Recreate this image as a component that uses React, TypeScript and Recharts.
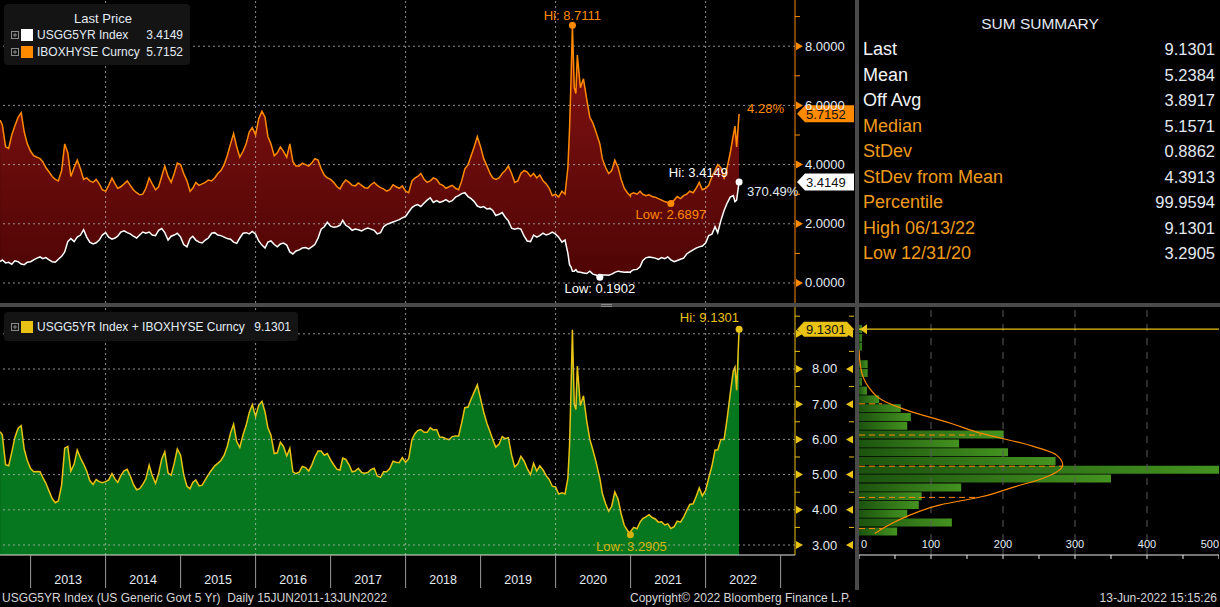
import React from "react";
import {
  ComposedChart,
  Area,
  Line,
  Bar,
  XAxis,
  YAxis,
  ReferenceLine,
  ReferenceDot,
} from "recharts";

const FONT = '"Liberation Sans", Arial, Helvetica, sans-serif';
const ORANGE = "#ff8a00";
const YELLOW = "#e8c215";
const GREEN = "#07771f";
const TEXT = "#e3ebf3";
const GRID = "rgba(190,190,190,0.75)";

// semi-monthly sampling dates
const HALF_MONTHS = [
  "01-01", "01-16", "02-01", "02-16", "03-01", "03-16", "04-01", "04-16",
  "05-01", "05-16", "06-01", "06-16", "07-01", "07-16", "08-01", "08-16",
  "09-01", "09-16", "10-01", "10-16", "11-01", "11-16", "12-01", "12-16",
];
const year = (y: number) => HALF_MONTHS.map((md) => `${y}-${md}`);

const DATES = [
  "2012-08-05", "2012-08-16", "2012-09-01", "2012-09-16", "2012-10-01",
  "2012-10-16", "2012-11-01", "2012-11-16", "2012-12-01", "2012-12-16",
  ...year(2013), ...year(2014), ...year(2015), ...year(2016),
  ...year(2017), ...year(2018), ...year(2019),
  "2020-01-01", "2020-01-16", "2020-02-01", "2020-02-16", "2020-03-01",
  "2020-03-09", "2020-03-16", "2020-03-23", "2020-04-01", "2020-04-09",
  "2020-04-16", "2020-05-01", "2020-05-16", "2020-06-01", "2020-06-16",
  "2020-07-01", "2020-07-16", "2020-08-04", "2020-08-16", "2020-09-01",
  "2020-09-16", "2020-10-01", "2020-10-16", "2020-11-01", "2020-11-16",
  "2020-12-01", "2020-12-16", "2020-12-31",
  ...year(2021),
  "2022-01-01", "2022-01-16", "2022-02-01", "2022-02-16", "2022-03-01",
  "2022-03-16", "2022-04-01", "2022-04-16", "2022-05-01", "2022-05-16",
  "2022-05-24", "2022-06-01", "2022-06-13",
];

// USGG5YR Index
const US5Y = [
  0.72, 0.78, 0.68, 0.70, 0.63, 0.75, 0.72, 0.64, 0.62, 0.70,
  0.72, 0.78, 0.84, 0.88, 0.82, 0.86, 0.78, 0.72, 0.70, 0.80, 0.90, 1.05, 1.40, 1.50, 1.40, 1.55, 1.62, 1.80, 1.55, 1.38, 1.32, 1.36, 1.45, 1.62,
  1.70, 1.55, 1.48, 1.52, 1.58, 1.72, 1.76, 1.70, 1.66, 1.58, 1.52, 1.62, 1.72, 1.68, 1.72, 1.62, 1.60, 1.78, 1.84, 1.70, 1.45, 1.58, 1.62, 1.68,
  1.55, 1.30, 1.22, 1.50, 1.58, 1.45, 1.38, 1.35, 1.45, 1.52, 1.68, 1.70, 1.62, 1.60, 1.55, 1.50, 1.48, 1.38, 1.34, 1.52, 1.68, 1.70, 1.66, 1.74,
  1.65, 1.42, 1.28, 1.18, 1.38, 1.42, 1.30, 1.22, 1.32, 1.35, 1.28, 1.05, 0.98, 1.08, 1.12, 1.18, 1.20, 1.15, 1.22, 1.30, 1.52, 1.82, 1.90, 2.05,
  1.92, 1.88, 1.90, 1.95, 2.12, 1.95, 1.88, 1.78, 1.82, 1.80, 1.76, 1.82, 1.86, 1.82, 1.78, 1.66, 1.70, 1.90, 1.98, 2.02, 2.06, 2.10, 2.14, 2.20,
  2.25, 2.40, 2.55, 2.62, 2.65, 2.58, 2.70, 2.80, 2.88, 2.72, 2.78, 2.72, 2.76, 2.82, 2.74, 2.78, 2.90, 2.95, 3.02, 3.05, 2.92, 2.85, 2.75, 2.60,
  2.55, 2.58, 2.50, 2.52, 2.45, 2.28, 2.32, 2.38, 2.22, 2.10, 1.85, 1.82, 1.85, 1.82, 1.58, 1.42, 1.40, 1.62, 1.55, 1.60, 1.68, 1.62, 1.66, 1.72,
  1.65, 1.55, 1.38, 1.45, 1.00, 0.62, 0.55, 0.40, 0.40, 0.45, 0.38, 0.36, 0.34, 0.32, 0.40, 0.30, 0.27, 0.1902, 0.27, 0.27, 0.26, 0.30, 0.36, 0.40, 0.38, 0.36, 0.37, 0.36,
  0.38, 0.45, 0.46, 0.55, 0.75, 0.85, 0.88, 0.86, 0.84, 0.80, 0.86, 0.82, 0.88, 0.78, 0.72, 0.76, 0.80, 0.84, 0.98, 1.05, 1.12, 1.18, 1.22, 1.25,
  1.35, 1.60, 1.65, 1.90, 1.70, 2.10, 2.45, 2.70, 2.90, 2.95, 2.75, 2.80, 3.4149,
];

// IBOXHYSE Curncy
const HYSE = [
  5.50, 5.35, 4.60, 4.55, 5.00, 5.30, 5.60, 5.75, 5.10, 4.70,
  4.45, 4.30, 4.25, 4.20, 4.10, 3.90, 3.75, 3.60, 3.50, 3.45, 3.80, 4.70, 4.40, 3.60, 3.90, 4.15, 3.85, 3.50, 3.55, 3.45, 3.40, 3.50, 3.35, 3.15,
  3.10, 3.30, 3.55, 3.35, 3.20, 3.25, 3.35, 3.45, 3.30, 3.15, 3.05, 2.98, 3.00, 3.20, 3.55, 3.35, 3.15, 3.25, 3.60, 3.95, 3.60, 3.40, 3.70, 4.05,
  4.00, 3.70, 3.45, 3.10, 3.20, 3.40, 3.30, 3.35, 3.40, 3.48, 3.45, 3.55, 3.70, 3.80, 4.00, 4.30, 4.70, 5.05, 4.60, 4.25, 4.45, 4.70, 5.10, 5.25,
  5.00, 5.55, 5.80, 5.60, 4.95, 4.70, 4.30, 4.40, 4.60, 4.45, 4.25, 4.70, 4.10, 3.95, 3.95, 4.05, 4.00, 3.95, 4.05, 4.20, 4.15, 3.85, 3.65, 3.55,
  3.50, 3.40, 3.25, 3.18, 3.35, 3.48, 3.40, 3.30, 3.28, 3.38, 3.30, 3.22, 3.20, 3.32, 3.40, 3.30, 3.22, 3.18, 3.10, 3.15, 3.32, 3.25, 3.20, 3.28,
  3.10, 3.05, 3.45, 3.55, 3.60, 3.70, 3.50, 3.40, 3.45, 3.55, 3.50, 3.35, 3.30, 3.20, 3.25, 3.30, 3.20, 3.15, 3.45, 3.85, 4.00, 4.30, 4.60, 4.95,
  4.60, 4.20, 3.95, 3.70, 3.55, 3.50, 3.55, 3.70, 3.80, 3.95, 3.70, 3.40, 3.45, 3.70, 3.80, 3.75, 3.60, 3.70, 3.55, 3.65, 3.45, 3.35, 3.20, 2.95,
  3.00, 2.90, 3.10, 3.00, 3.90, 5.20, 6.80, 8.7111, 6.60, 6.40, 7.70, 6.60, 6.90, 6.20, 5.60, 5.40, 5.10, 4.70, 4.20, 3.90, 3.70, 3.80, 4.15, 3.90, 3.50, 3.20, 3.05, 2.9305,
  3.00, 3.05, 3.00, 3.10, 3.00, 2.95, 2.98, 2.92, 2.90, 2.85, 2.80, 2.75, 2.72, 2.6897, 2.80, 2.92, 2.85, 2.95, 3.00, 3.10, 3.05, 3.20, 3.40, 3.15,
  3.20, 3.30, 3.60, 3.80, 4.00, 3.90, 3.55, 3.90, 4.40, 5.00, 5.30, 4.60, 5.7152,
];

const YEAR_LABELS = [2013, 2014, 2015, 2016, 2017, 2018, 2019, 2020, 2021, 2022];

// histogram of the summed series (bins of 0.25 starting 3.25)
const HIST_START = 3.25;
const HIST_STEP = 0.25;
const HIST_COUNTS = [53, 129, 67, 83, 87, 142, 350, 504, 273, 207, 139, 201, 67, 72, 58, 28, 11, 4, 12, 12, 1, 4, 4, 4];

// fitted normal curve
const CURVE_V = [3.33, 3.62, 3.80, 4.14, 4.37, 4.66, 4.89, 5.27, 5.56, 5.84, 6.17, 6.46, 6.84, 7.12, 7.50, 7.97, 8.54];
const CURVE_N = [22, 46, 65, 113, 170, 217, 255, 283, 274, 236, 170, 127, 65, 32, 13, 3, 0];
const MEAN = 5.2384;
const STDEV = 0.8862;
const BAND_SIGMA = [-2, -1, 0, 1, 2];
const BAND_LEN = [32, 167, 283, 170, 32];

const SUMMARY_LABELS = ["Last", "Mean", "Off Avg", "Median", "StDev", "StDev from Mean", "Percentile", "High 06/13/22", "Low 12/31/20"];
const SUMMARY_VALUES = ["9.1301", "5.2384", "3.8917", "5.1571", "0.8862", "4.3913", "99.9594", "9.1301", "3.2905"];

const PCT_HY = "4.28%";
const PCT_US = "370.49%";

const T0 = 2012.592;
const T1 = 2023.192;

function toYear(s: string) {
  const [y, m, d] = s.split("-").map(Number);
  const a = Date.UTC(y, 0, 1);
  const b = Date.UTC(y + 1, 0, 1);
  return y + (Date.UTC(y, m - 1, d) - a) / (b - a);
}

const rows = DATES.map((d, i) => ({
  t: toYear(d),
  us: US5Y[i],
  hy: HYSE[i],
  sum: +(US5Y[i] + HYSE[i]).toFixed(4),
}));

const bins = HIST_COUNTS.map((n, i) => ({ v: HIST_START + HIST_STEP * (i + 0.5), n }));
const curve = CURVE_V.map((v, i) => ({ v, c: CURVE_N[i] }));

function extreme(key: "us" | "hy" | "sum", hi: boolean) {
  return rows.reduce((best, r) => (hi ? r[key] > best[key] : r[key] < best[key]) ? r : best, rows[0]);
}

const hiUs = extreme("us", true);
const loUs = extreme("us", false);
const hiHy = extreme("hy", true);
const loHy = extreme("hy", false);
const hiSum = extreme("sum", true);
const loSum = extreme("sum", false);
const last = rows[rows.length - 1];

const TOP_TICKS = [0, 1, 2, 3, 4, 5, 6, 7, 8, 9];
const BOT_TICKS = [3, 3.5, 4, 4.5, 5, 5.5, 6, 6.5, 7, 7.5, 8, 8.5, 9, 9.5];
const X_TICKS = [...YEAR_LABELS, 2023, ...YEAR_LABELS.map((y) => y + 0.5)];
const X_GRID = [2014, 2016, 2018, 2020, 2022];

function TopTick(props: any) {
  const { x, y, payload } = props;
  const v = payload.value;
  if (v % 2 !== 0) {
    return <line x1={x} x2={x + 5} y1={y} y2={y} stroke={ORANGE} />;
  }
  return (
    <g>
      <polygon points={`${x + 1},${y - 4} ${x + 8},${y} ${x + 1},${y + 4}`} fill={ORANGE} />
      <text x={x + 10} y={y + 4.5} fill={TEXT} fontSize={13} fontFamily={FONT}>
        {v.toFixed(4)}
      </text>
    </g>
  );
}

function BottomTick(props: any) {
  const { x, y, payload } = props;
  const v = payload.value;
  if (!Number.isInteger(v)) {
    return (
      <g>
        <line x1={x} x2={x + 5} y1={y} y2={y} stroke={YELLOW} />
        <line x1={x + 54} x2={x + 59} y1={y} y2={y} stroke={YELLOW} />
      </g>
    );
  }
  // the 9.00 label sits under the last-value tag
  return (
    <g>
      <polygon points={`${x + 1},${y - 4} ${x + 8},${y} ${x + 1},${y + 4}`} fill={YELLOW} />
      {v < 9 && (
        <text x={x + 17} y={y + 4.5} fill={TEXT} fontSize={13} fontFamily={FONT}>
          {v.toFixed(2)}
        </text>
      )}
      <polygon points={`${x + 58},${y - 4} ${x + 51},${y} ${x + 58},${y + 4}`} fill={YELLOW} />
    </g>
  );
}

function YearTick(props: any) {
  const { x, y, payload } = props;
  const v = payload.value;
  if (Number.isInteger(v)) {
    return <line x1={x} x2={x} y1={y} y2={y + 33} stroke="#9a9a9a" />;
  }
  return (
    <text x={x} y={y + 29} fill={TEXT} fontSize={12.5} fontFamily={FONT} textAnchor="middle">
      {Math.floor(v)}
    </text>
  );
}

function HistTick(props: any) {
  const { x, y, payload } = props;
  const v = payload.value;
  const anchor = v === 0 ? "start" : v === 500 ? "end" : "middle";
  return (
    <g>
      <line x1={x} x2={x} y1={y} y2={y + 4} stroke="#e8e8e8" />
      {v % 100 === 0 && (
        <text x={v === 0 ? x + 2 : x} y={y - 7} fill={TEXT} fontSize={11} fontFamily={FONT} textAnchor={anchor}>
          {v}
        </text>
      )}
    </g>
  );
}

function dotWithText(color: string, text: string, dx: number, dy: number, anchor: string, r = 3.5) {
  return (p: any) => (
    <g>
      {r > 0 && <circle cx={p.cx} cy={p.cy} r={r} fill={color} />}
      <text x={p.cx + dx} y={p.cy + dy} fill={color} fontSize={13} fontFamily={FONT} textAnchor={anchor}>
        {text}
      </text>
    </g>
  );
}

function axisTag(fill: string, text: string, both: boolean) {
  return (p: any) => {
    const vb = p.viewBox || {};
    const x0 = vb.x + vb.width + 2;
    const y = vb.y;
    const pts = both
      ? `${x0},${y} ${x0 + 7},${y - 7.5} ${x0 + 50},${y - 7.5} ${x0 + 57},${y} ${x0 + 50},${y + 7.5} ${x0 + 7},${y + 7.5}`
      : `${x0},${y} ${x0 + 8},${y - 8.5} ${x0 + 57},${y - 8.5} ${x0 + 57},${y + 8.5} ${x0 + 8},${y + 8.5}`;
    return (
      <g>
        <polygon points={pts} fill={fill} />
        <text x={x0 + 9} y={y + 5} fill="#111" fontSize={13} fontFamily={FONT}>
          {text}
        </text>
      </g>
    );
  };
}

function PlusBox() {
  return (
    <svg width={8} height={8} style={{ position: "absolute", left: 7, top: 4 }}>
      <rect x={0.5} y={0.5} width={7} height={7} fill="none" stroke="#8a8a8a" />
      <path d="M2 4H6M4 2V6" stroke="#8a8a8a" />
    </svg>
  );
}

function LegendRow({ top, color, label, value, width }: { top: number; color: string; label: string; value: string; width: number }) {
  return (
    <div style={{ position: "absolute", left: 0, top, width, height: 16, lineHeight: "16px", fontSize: 12, color: TEXT }}>
      <PlusBox />
      <span style={{ position: "absolute", left: 17, top: 2, width: 12, height: 12, background: color }} />
      <span style={{ position: "absolute", left: 33, whiteSpace: "nowrap" }}>{label}</span>
      <span style={{ position: "absolute", right: 7 }}>{value}</span>
    </div>
  );
}

export default function App() {
  return (
    <div style={{ position: "relative", width: 1220, height: 607, background: "#000", overflow: "hidden", fontFamily: FONT }}>
      <style>{`body{margin:0;background:#000}`}</style>

      {/* top panel */}
      <div style={{ position: "absolute", left: 0, top: 0 }}>
        <ComposedChart width={860} height={303} data={rows} margin={{ top: 0, right: 0, bottom: 0, left: 0 }}>
          <defs>
            <linearGradient id="redFill" x1="0" y1="0" x2="0" y2="300" gradientUnits="userSpaceOnUse">
              <stop offset="0" stopColor="#8c1515" />
              <stop offset="1" stopColor="#4a0303" />
            </linearGradient>
          </defs>
          <XAxis dataKey="t" type="number" domain={[T0, T1]} allowDataOverflow hide />
          <YAxis
            orientation="right"
            type="number"
            domain={[-0.676, 9.561]}
            allowDataOverflow
            ticks={TOP_TICKS}
            interval={0}
            width={65}
            tickSize={0}
            tickMargin={0}
            axisLine={{ stroke: ORANGE }}
            tickLine={false}
            tick={TopTick}
          />
          <Area dataKey={(d: any) => [d.us, d.hy]} fill="url(#redFill)" fillOpacity={1} stroke="none" activeDot={false} isAnimationActive={false} />
          {[0, 2, 4, 6, 8].map((v) => (
            <ReferenceLine key={`h${v}`} y={v} stroke={GRID} strokeDasharray="2 3" />
          ))}
          {X_GRID.map((v) => (
            <ReferenceLine key={`v${v}`} x={v} stroke={GRID} strokeDasharray="2 3" />
          ))}
          <Line dataKey="hy" stroke={ORANGE} strokeWidth={1.5} dot={false} activeDot={false} type="linear" isAnimationActive={false} />
          <Line dataKey="us" stroke="#ffffff" strokeWidth={1.5} dot={false} activeDot={false} type="linear" isAnimationActive={false} />
          <ReferenceDot x={hiHy.t} y={hiHy.hy} shape={dotWithText(ORANGE, `Hi: ${hiHy.hy.toFixed(4)}`, 0, -5, "middle")} />
          <ReferenceDot x={loHy.t} y={loHy.hy} shape={dotWithText(ORANGE, `Low: ${loHy.hy.toFixed(4)}`, 0, 16, "middle")} />
          <ReferenceDot x={loUs.t} y={loUs.us} shape={dotWithText("#ffffff", `Low: ${loUs.us.toFixed(4)}`, 0, 16, "middle")} />
          <ReferenceDot x={hiUs.t} y={hiUs.us} shape={dotWithText("#ffffff", `Hi: ${hiUs.us.toFixed(4)}`, -11, -5, "end")} />
          <ReferenceDot x={last.t} y={last.us} shape={dotWithText(TEXT, PCT_US, 8, 14, "start", 0)} />
          <ReferenceDot x={last.t} y={last.hy} shape={dotWithText(ORANGE, PCT_HY, 8, -1, "start", 0)} />
          <ReferenceLine y={last.hy} stroke="none" label={axisTag(ORANGE, last.hy.toFixed(4), false)} />
          <ReferenceLine y={last.us} stroke="none" label={axisTag("#ffffff", last.us.toFixed(4), false)} />
        </ComposedChart>
      </div>

      {/* bottom panel */}
      <div style={{ position: "absolute", left: 0, top: 307 }}>
        <ComposedChart width={860} height={285} data={rows} margin={{ top: 0, right: 0, bottom: 0, left: 0 }}>
          <XAxis
            dataKey="t"
            type="number"
            domain={[T0, T1]}
            allowDataOverflow
            ticks={X_TICKS}
            interval={0}
            height={37}
            tickSize={0}
            tickMargin={0}
            axisLine={{ stroke: "#e6e6e6" }}
            tickLine={false}
            tick={YearTick}
          />
          <YAxis
            orientation="right"
            type="number"
            domain={[2.716, 9.761]}
            allowDataOverflow
            ticks={BOT_TICKS}
            interval={0}
            width={65}
            tickSize={0}
            tickMargin={0}
            axisLine={{ stroke: YELLOW }}
            tickLine={false}
            tick={BottomTick}
          />
          <Area dataKey="sum" type="linear" fill={GREEN} fillOpacity={1} stroke={YELLOW} strokeWidth={1.5} activeDot={false} isAnimationActive={false} />
          {[3, 4, 5, 6, 7, 8, 9].map((v) => (
            <ReferenceLine key={`h${v}`} y={v} stroke={GRID} strokeDasharray="2 3" />
          ))}
          {X_GRID.map((v) => (
            <ReferenceLine key={`v${v}`} x={v} stroke={GRID} strokeDasharray="2 3" />
          ))}
          <ReferenceDot x={hiSum.t} y={hiSum.sum} shape={dotWithText(YELLOW, `Hi: ${hiSum.sum.toFixed(4)}`, 0, -7, "end")} />
          <ReferenceDot x={loSum.t} y={loSum.sum} shape={dotWithText("#d6b30c", `Low: ${loSum.sum.toFixed(4)}`, 1, 16, "middle")} />
          <ReferenceLine y={last.sum} stroke="none" label={axisTag(YELLOW, last.sum.toFixed(4), true)} />
        </ComposedChart>
      </div>

      {/* histogram bars */}
      <div style={{ position: "absolute", left: 859, top: 307 }}>
        <ComposedChart layout="vertical" width={360} height={248} data={bins} margin={{ top: 0, right: 0, bottom: 0, left: 0 }}>
          <defs>
            <linearGradient id="histGrad" x1="0" y1="0" x2="1" y2="0">
              <stop offset="0" stopColor="#1c530f" />
              <stop offset="1" stopColor="#449320" />
            </linearGradient>
          </defs>
          <XAxis type="number" domain={[0, 500]} allowDataOverflow hide />
          <YAxis type="number" dataKey="v" domain={[2.716, 9.761]} allowDataOverflow reversed hide />
          <Bar dataKey="n" barSize={8} fill="url(#histGrad)" activeBar={false} isAnimationActive={false} />
        </ComposedChart>
      </div>

      {/* histogram overlay: curve, sigma bands, axis */}
      <div style={{ position: "absolute", left: 859, top: 307 }}>
        <ComposedChart layout="vertical" width={360} height={258} data={curve} margin={{ top: 0, right: 0, bottom: 0, left: 0 }}>
          <XAxis
            type="number"
            domain={[0, 500]}
            ticks={[0, 50, 100, 150, 200, 250, 300, 350, 400, 450, 500]}
            interval={0}
            height={10}
            tickSize={0}
            tickMargin={0}
            axisLine={{ stroke: "#e8e8e8" }}
            tickLine={false}
            tick={HistTick}
          />
          <YAxis type="number" dataKey="v" domain={[2.716, 9.761]} allowDataOverflow reversed hide />
          {[100, 200, 300, 400].map((v) => (
            <ReferenceLine key={v} x={v} stroke="#5a5a5a" strokeDasharray="7 7" />
          ))}
          {BAND_SIGMA.map((k, i) => (
            <ReferenceLine
              key={`b${k}`}
              segment={[{ x: 0, y: MEAN + k * STDEV }, { x: BAND_LEN[i], y: MEAN + k * STDEV }]}
              stroke={ORANGE}
              strokeDasharray="6 4"
            />
          ))}
          <Line dataKey="c" type="monotone" stroke={ORANGE} strokeWidth={1.2} dot={false} activeDot={false} isAnimationActive={false} />
          <ReferenceLine
            y={last.sum}
            stroke={YELLOW}
            strokeWidth={1.2}
            label={(p: any) => {
              const vb = p.viewBox || {};
              return <polygon points={`${vb.x + 1},${vb.y} ${vb.x + 8},${vb.y - 5} ${vb.x + 8},${vb.y + 5}`} fill={YELLOW} />;
            }}
          />
        </ComposedChart>
      </div>

      {/* panel dividers */}
      <div style={{ position: "absolute", left: 0, top: 303, width: 1220, height: 4, background: "#4a4a4a" }} />
      <div style={{ position: "absolute", left: 601, top: 304, width: 11, height: 1, background: "#8a8a8a" }} />
      <div style={{ position: "absolute", left: 601, top: 306, width: 11, height: 1, background: "#8a8a8a" }} />
      <div style={{ position: "absolute", left: 855, top: 0, width: 4, height: 590, background: "#4a4a4a" }} />

      {/* top legend */}
      <div style={{ position: "absolute", left: 4, top: 4, width: 186, height: 61, background: "#141414", borderRadius: 4 }}>
        <div style={{ position: "absolute", left: 0, width: 198, top: 7, textAlign: "center", fontSize: 13, color: TEXT, lineHeight: "16px" }}>
          Last Price
        </div>
        <LegendRow top={23} color="#ffffff" label="USGG5YR Index" value={last.us.toFixed(4)} width={186} />
        <LegendRow top={40} color={ORANGE} label="IBOXHYSE Curncy" value={last.hy.toFixed(4)} width={186} />
      </div>

      {/* bottom legend */}
      <div style={{ position: "absolute", left: 4, top: 312, width: 294, height: 29, background: "#141414", borderRadius: 4 }}>
        <LegendRow top={7} color={YELLOW} label="USGG5YR Index + IBOXHYSE Curncy" value={last.sum.toFixed(4)} width={294} />
      </div>

      {/* summary panel */}
      <div style={{ position: "absolute", left: 860, top: 14, width: 360, textAlign: "center", fontSize: 15.5, color: TEXT, lineHeight: "20px" }}>
        SUM SUMMARY
      </div>
      {SUMMARY_LABELS.map((label, i) => (
        <div key={label} style={{ position: "absolute", left: 863, top: 37 + i * 25.5, width: 352, height: 24, lineHeight: "24px" }}>
          <span style={{ position: "absolute", left: 0, fontSize: 18, color: i < 3 ? "#f2f4f7" : "#ee9a1c", whiteSpace: "nowrap" }}>{label}</span>
          <span style={{ position: "absolute", right: 0, fontSize: 16.5, color: "#e3e9f0" }}>{SUMMARY_VALUES[i]}</span>
        </div>
      ))}

      {/* footer */}
      <div style={{ position: "absolute", left: 2, top: 591, fontSize: 12, color: "#d6d6d6", whiteSpace: "pre", lineHeight: "15px" }}>
        {"USGG5YR Index (US Generic Govt 5 Yr)  Daily 15JUN2011-13JUN2022"}
      </div>
      <div style={{ position: "absolute", left: 630, top: 591, fontSize: 12, color: "#d6d6d6", whiteSpace: "nowrap", lineHeight: "15px" }}>
        Copyright© 2022 Bloomberg Finance L.P.
      </div>
      <div style={{ position: "absolute", right: 3, top: 591, fontSize: 12, color: "#d6d6d6", whiteSpace: "nowrap", lineHeight: "15px" }}>
        13-Jun-2022 15:15:26
      </div>
    </div>
  );
}
